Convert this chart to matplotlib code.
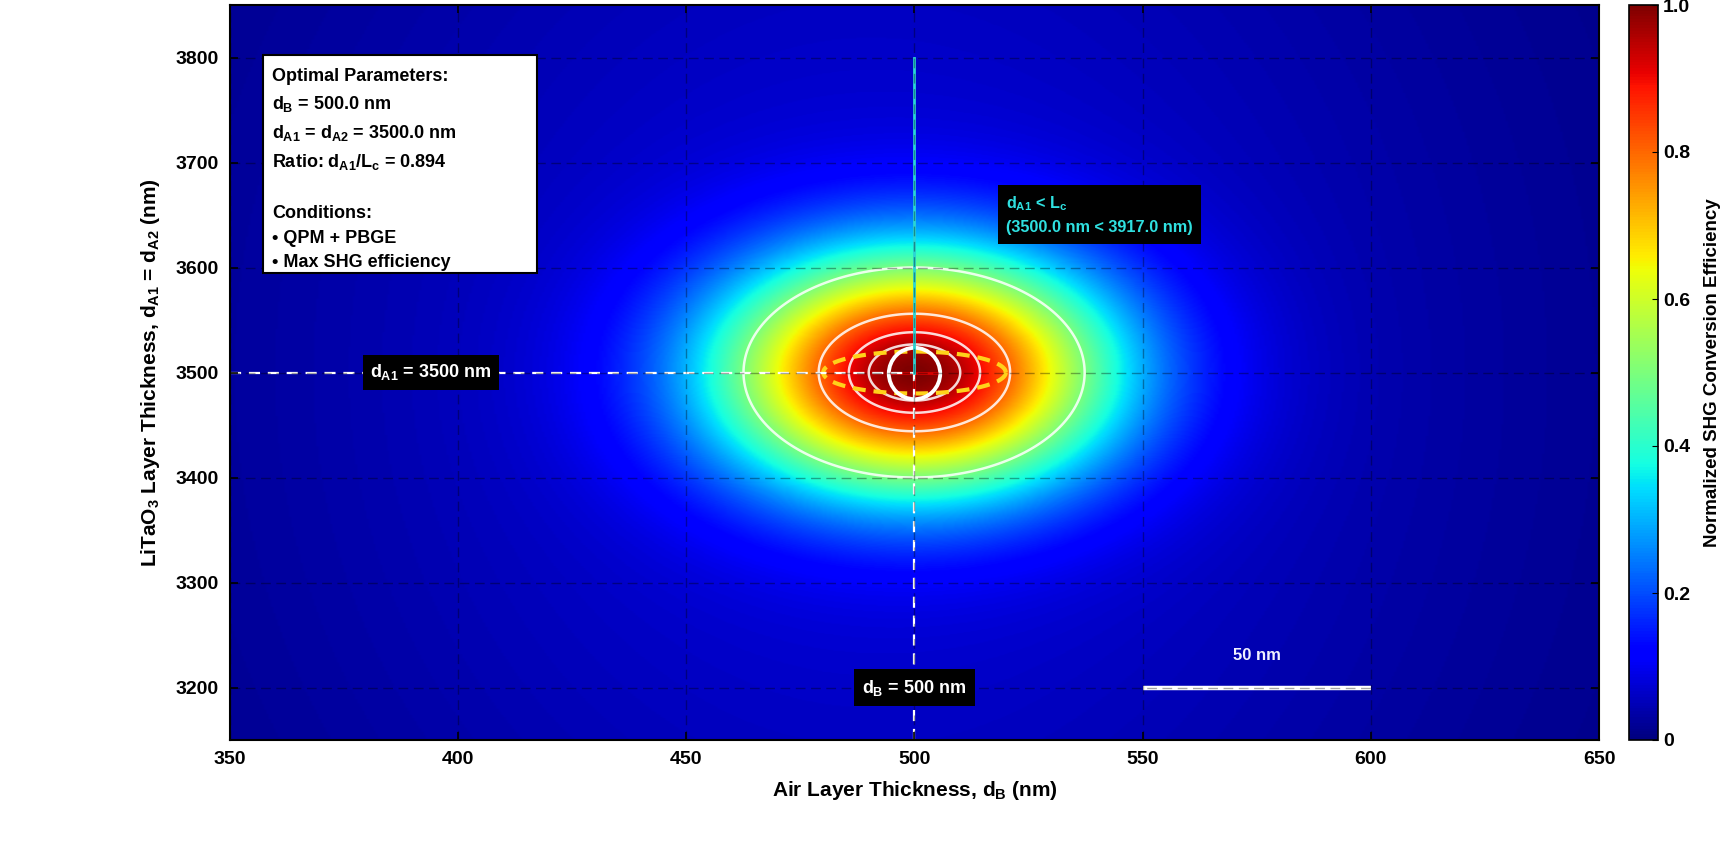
import numpy as np
import matplotlib
matplotlib.use("Agg")
import matplotlib.pyplot as plt
from matplotlib.patches import Rectangle

plt.rcParams['font.family'] = ['Liberation Sans', 'DejaVu Sans']
plt.rcParams['font.weight'] = 'bold'
plt.rcParams['axes.labelweight'] = 'bold'
plt.rcParams['mathtext.fontset'] = 'custom'
plt.rcParams['mathtext.rm'] = 'Liberation Sans:bold'
plt.rcParams['mathtext.it'] = 'Liberation Sans:bold'
plt.rcParams['mathtext.bf'] = 'Liberation Sans:bold'

# --- values ---
x_range = [350, 650]          # air layer thickness d_B (nm)
y_range = [3150, 3850]        # LiTaO3 thickness d_A1 (nm)
x_opt = 500.0                 # optimum d_B
y_opt = 3500.0                # optimum d_A1
x_width = 30.0                # peak width along d_B (nm)
y_width = 80.0                # peak width along d_A1 (nm)
bg_amp = 0.08                 # faint broad background level
bg_xcenter = 490.0
bg_xwidth = 95.0
bg_ywidth = 450.0
contour_levels = [0.5, 0.8, 0.9, 0.95]
pbge_radius = 20.0            # yellow dashed region radius (nm)
cyan_top = 3800.0
scale_bar = [550, 600]
scale_y = 3200
x_ticks = [350, 400, 450, 500, 550, 600, 650]
y_ticks = [3200, 3300, 3400, 3500, 3600, 3700, 3800]
cb_ticks = [0, 0.2, 0.4, 0.6, 0.8, 1.0]
cb_ticklabels = ['0', '0.2', '0.4', '0.6', '0.8', '1.0']

# efficiency map
dB = np.linspace(x_range[0], x_range[1], 601)
dA = np.linspace(y_range[0], y_range[1], 701)
X, Y = np.meshgrid(dB, dA)
peak = np.exp(-0.5 * ((X - x_opt) / x_width) ** 2 - 0.5 * ((Y - y_opt) / y_width) ** 2)
background = bg_amp * np.exp(-0.5 * ((X - bg_xcenter) / bg_xwidth) ** 2 - 0.5 * ((Y - y_opt) / bg_ywidth) ** 2)
eff = peak + background * (1 - peak)
eff = eff / eff.max()

fig = plt.figure(figsize=(17.25, 8.42), dpi=100)
ax = fig.add_axes([230 / 1725, 102 / 842, 1369 / 1725, 735 / 842])
cax = fig.add_axes([1629 / 1725, 102 / 842, 29 / 1725, 735 / 842])

im = ax.imshow(eff, extent=[x_range[0], x_range[1], y_range[0], y_range[1]],
               origin='lower', aspect='auto', cmap='jet', vmin=0, vmax=1,
               interpolation='bilinear')

ax.contour(X, Y, eff, levels=contour_levels, colors='white', linewidths=1.8, alpha=0.85)

# yellow dashed PBGE region
theta = np.linspace(0, 2 * np.pi, 200)
ax.plot(x_opt + pbge_radius * np.cos(theta), y_opt + pbge_radius * np.sin(theta),
        color='#ffd21a', lw=3, linestyle=(0, (3.1, 1.9)))

# optimum marker
ax.plot([x_opt], [y_opt], 'o', ms=37, mfc='none', mec='white', mew=2.8)
ax.plot([x_opt], [y_opt], '+', ms=34, color='red', mew=2, alpha=0.7)

# crosshair lines
ax.plot([x_range[0], x_opt], [y_opt, y_opt], color='white', lw=1.6, linestyle=(0, (5, 3.5)))
ax.plot([x_opt, x_opt], [y_range[0], y_opt], color='white', lw=1.6, linestyle=(0, (5, 3.5)))
ax.plot([x_opt, x_opt], [y_opt, cyan_top], color='#2ad4d4', lw=2)

# scale bar
ax.plot(scale_bar, [scale_y, scale_y], color='white', lw=3.2, solid_capstyle='butt')
ax.text(np.mean(scale_bar), 3230, '50 nm', color='#f0f0ff', fontsize=12,
        ha='center', va='center')

# labels on black boxes
ax.text(394, y_opt, r'$d_{A1}$ = 3500 nm', color='white', fontsize=13, ha='center', va='center',
        bbox=dict(boxstyle='square,pad=0.4', fc='black', ec='none'))
ax.text(x_opt, 3200, r'$d_{B}$ = 500 nm', color='white', fontsize=13, ha='center', va='center',
        bbox=dict(boxstyle='square,pad=0.45', fc='black', ec='none'))
ax.text(520, 3650, '$d_{A1}$ < $L_c$\n(3500.0 nm < 3917.0 nm)', color='#2fe0e0', fontsize=11.7,
        ha='left', va='center', linespacing=1.6,
        bbox=dict(boxstyle='square,pad=0.5', fc='black', ec='none'))

# parameter box
ax.add_patch(Rectangle((0.0241, 0.6354), 0.2002, 0.2966, transform=ax.transAxes,
                       fc='white', ec='black', lw=1.5, zorder=4))
info = ('Optimal Parameters:\n'
        '$d_B$ = 500.0 nm\n'
        '$d_{A1}$ = $d_{A2}$ = 3500.0 nm\n'
        'Ratio: $d_{A1}$/$L_c$ = 0.894\n'
        '\n'
        'Conditions:\n'
        '\u2022 QPM + PBGE\n'
        '\u2022 Max SHG efficiency')
ax.text(0.031, 0.914, info, transform=ax.transAxes, fontsize=13, va='top', ha='left',
        linespacing=1.6, zorder=5)

ax.set_xlim(x_range)
ax.set_ylim(y_range)
ax.set_xticks(x_ticks)
ax.set_yticks(y_ticks)
ax.tick_params(direction='in', length=6, width=1.2, labelsize=14, top=True, right=True, pad=8)
ax.grid(True, color='black', alpha=0.35, lw=1, linestyle=(0, (7, 4)))
ax.set_axisbelow(False)
for s in ax.spines.values():
    s.set_linewidth(1.5)

ax.set_xlabel('Air Layer Thickness, $d_B$ (nm)', fontsize=15, labelpad=8)
ax.set_ylabel('LiTaO$_3$ Layer Thickness, $d_{A1}$ = $d_{A2}$ (nm)', fontsize=15, labelpad=10)

cb = fig.colorbar(im, cax=cax)
cb.set_ticks(cb_ticks)
cb.set_ticklabels(cb_ticklabels)
cb.ax.tick_params(labelsize=14, direction='in', length=4)
cb.set_label('Normalized SHG Conversion Efficiency', fontsize=13.5, labelpad=10)
cb.outline.set_linewidth(1.2)

fig.savefig('out.png', dpi=100)
